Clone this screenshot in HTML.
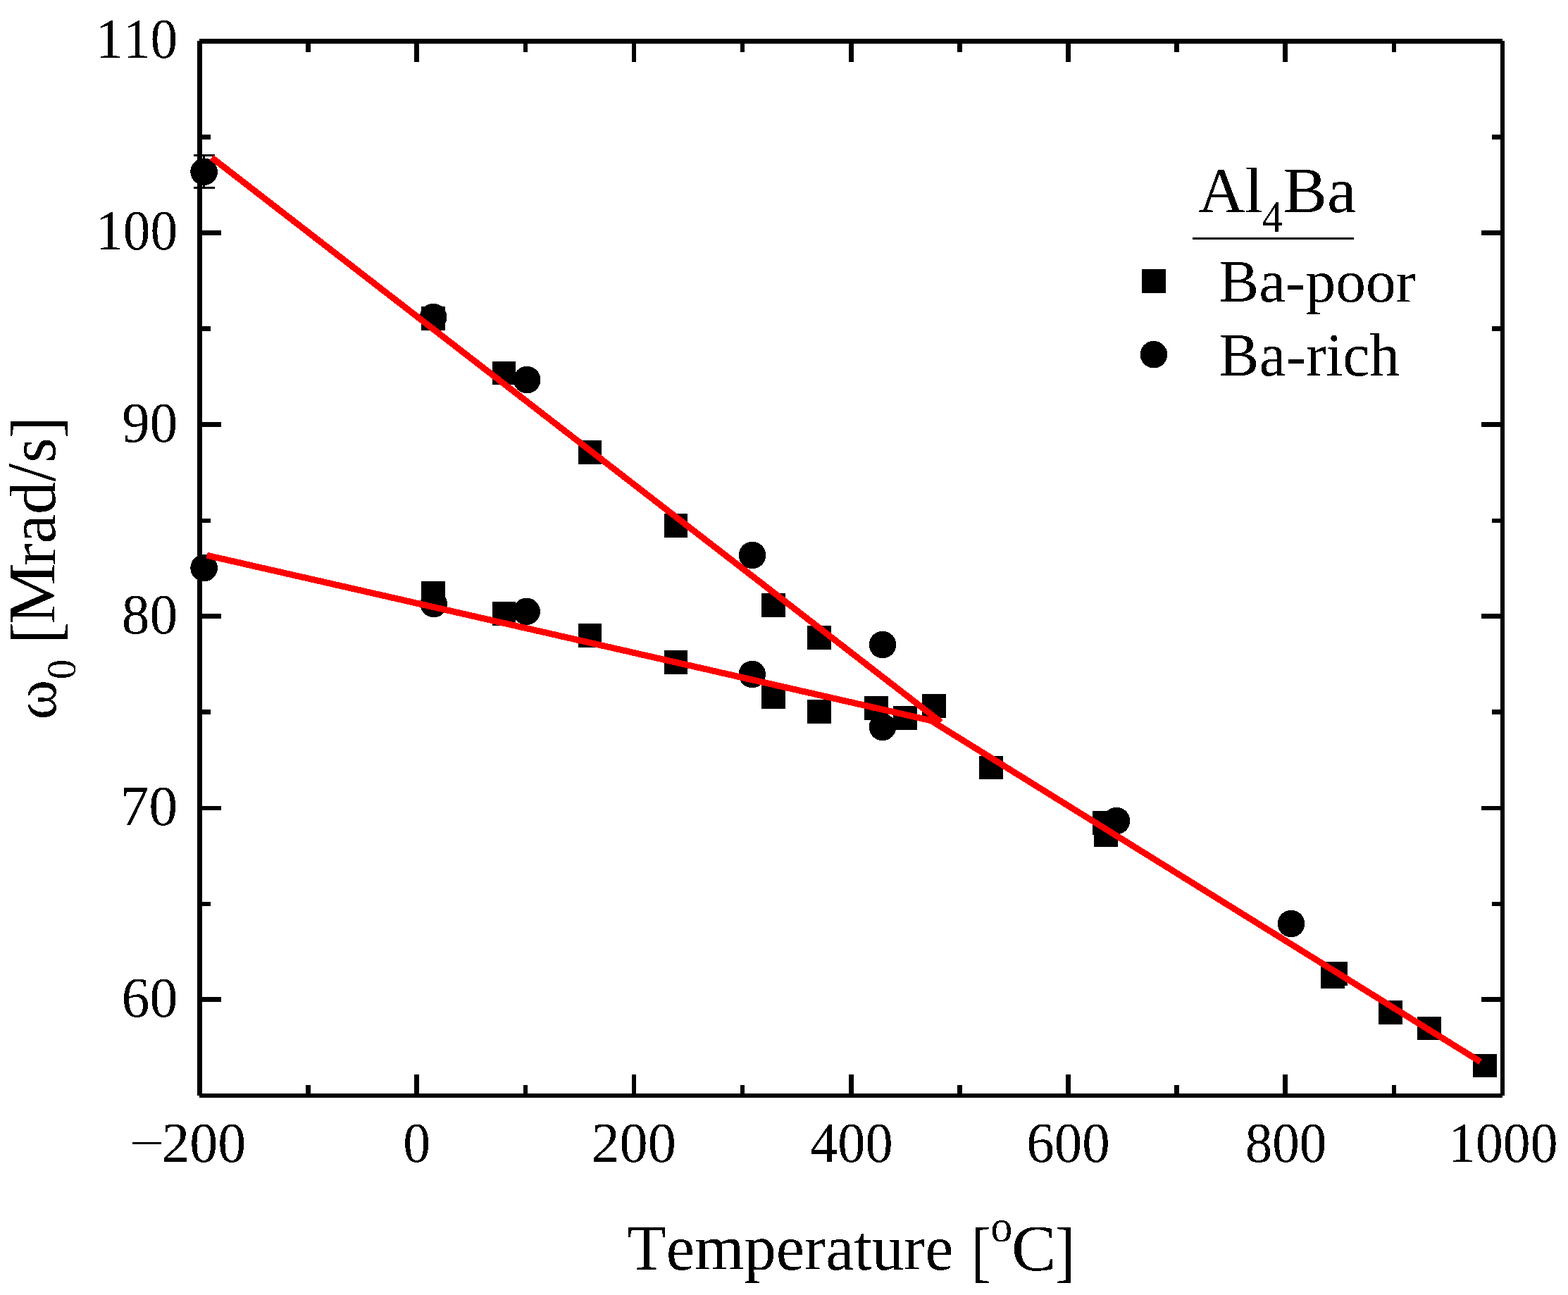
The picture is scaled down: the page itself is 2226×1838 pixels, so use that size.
<!DOCTYPE html>
<html lang="en"><head><meta charset="utf-8"><title>Al4Ba quadrupole frequency vs temperature</title>
<style>
html,body{margin:0;padding:0;background:#fff;}
body{width:2226px;height:1838px;overflow:hidden;}
svg{display:block;}
text{font-family:"Liberation Serif","DejaVu Serif",serif;fill:#000;font-kerning:none;font-variant-ligatures:none;}
</style></head><body>
<svg width="2226" height="1838" viewBox="0 0 2226 1838">
<rect x="0" y="0" width="2226" height="1838" fill="#fff"/>
<g fill="#000" shape-rendering="crispEdges">
<rect x="280" y="58" width="7" height="1497"/>
<rect x="2130" y="58" width="6" height="1497"/>
<rect x="283" y="55" width="1850" height="7"/>
<rect x="283" y="1552" width="1850" height="6"/>
<rect x="434" y="58" width="7" height="16"/>
<rect x="434" y="1540" width="7" height="15"/>
<rect x="588" y="58" width="7" height="30"/>
<rect x="588" y="1525" width="7" height="30"/>
<rect x="743" y="58" width="6" height="16"/>
<rect x="743" y="1540" width="6" height="15"/>
<rect x="897" y="58" width="6" height="30"/>
<rect x="897" y="1525" width="6" height="30"/>
<rect x="1051" y="58" width="6" height="16"/>
<rect x="1051" y="1540" width="6" height="15"/>
<rect x="1205" y="58" width="7" height="30"/>
<rect x="1205" y="1525" width="7" height="30"/>
<rect x="1359" y="58" width="7" height="16"/>
<rect x="1359" y="1540" width="7" height="15"/>
<rect x="1513" y="58" width="7" height="30"/>
<rect x="1513" y="1525" width="7" height="30"/>
<rect x="1667" y="58" width="7" height="16"/>
<rect x="1667" y="1540" width="7" height="15"/>
<rect x="1821" y="58" width="7" height="30"/>
<rect x="1821" y="1525" width="7" height="30"/>
<rect x="1976" y="58" width="6" height="16"/>
<rect x="1976" y="1540" width="6" height="15"/>
<rect x="283" y="191" width="16" height="7"/>
<rect x="2118" y="191" width="15" height="7"/>
<rect x="283" y="327" width="31" height="7"/>
<rect x="2103" y="327" width="30" height="7"/>
<rect x="283" y="463" width="16" height="7"/>
<rect x="2118" y="463" width="15" height="7"/>
<rect x="283" y="599" width="31" height="7"/>
<rect x="2103" y="599" width="30" height="7"/>
<rect x="283" y="736" width="16" height="6"/>
<rect x="2118" y="736" width="15" height="6"/>
<rect x="283" y="871" width="31" height="7"/>
<rect x="2103" y="871" width="30" height="7"/>
<rect x="283" y="1007" width="16" height="7"/>
<rect x="2118" y="1007" width="15" height="7"/>
<rect x="283" y="1144" width="31" height="6"/>
<rect x="2103" y="1144" width="30" height="6"/>
<rect x="283" y="1280" width="16" height="6"/>
<rect x="2118" y="1280" width="15" height="6"/>
<rect x="283" y="1415" width="31" height="7"/>
<rect x="2103" y="1415" width="30" height="7"/>
</g>
<g fill="#000" shape-rendering="crispEdges">
<rect x="288" y="220" width="3" height="47"/>
<rect x="275" y="219" width="30" height="3"/>
<rect x="275" y="265" width="30" height="3"/>
<rect x="598" y="435" width="34" height="34"/>
<rect x="699" y="513" width="33" height="33"/>
<rect x="821" y="625" width="33" height="34"/>
<rect x="943" y="729" width="33" height="34"/>
<rect x="1081" y="842" width="34" height="34"/>
<rect x="1146" y="888" width="34" height="34"/>
<rect x="598" y="825" width="34" height="34"/>
<rect x="699" y="854" width="33" height="34"/>
<rect x="821" y="885" width="33" height="34"/>
<rect x="943" y="923" width="33" height="34"/>
<rect x="1081" y="972" width="34" height="34"/>
<rect x="1146" y="993" width="34" height="34"/>
<rect x="1227" y="988" width="34" height="34"/>
<rect x="1268" y="1002" width="34" height="34"/>
<rect x="1309" y="985" width="34" height="34"/>
<rect x="1390" y="1073" width="34" height="33"/>
<rect x="1551" y="1151" width="34" height="34"/>
<rect x="1553" y="1168" width="34" height="34"/>
<rect x="1879" y="1365" width="34" height="34"/>
<rect x="1875" y="1369" width="34" height="34"/>
<rect x="1957" y="1420" width="34" height="34"/>
<rect x="2012" y="1443" width="34" height="33"/>
<rect x="2091" y="1496" width="34" height="33"/>
<circle cx="289.6" cy="243.7" r="19.3"/>
<circle cx="289.6" cy="806.1" r="19.3"/>
<circle cx="615.2" cy="450" r="19.3"/>
<circle cx="748.2" cy="539.1" r="19.3"/>
<circle cx="1068" cy="788" r="19.3"/>
<circle cx="1253" cy="915.1" r="19.3"/>
<circle cx="615.7" cy="857" r="19.3"/>
<circle cx="747.6" cy="867.9" r="19.3"/>
<circle cx="1067.8" cy="957" r="19.3"/>
<circle cx="1252.9" cy="1031.9" r="19.3"/>
<circle cx="1585" cy="1165" r="19.3"/>
<circle cx="1833" cy="1311" r="19.3"/>
</g>
<g fill="none" stroke="#f00" stroke-width="9" stroke-linecap="butt" stroke-linejoin="miter" shape-rendering="crispEdges">
<path d="M300.5 223.6 L1335.8 1024.9"/>
<path d="M293.7 788.2 L1321.7 1022.7 L2101.8 1507"/>
</g>
<defs><filter id="bin" filterUnits="userSpaceOnUse" x="0" y="0" width="2226" height="1838" color-interpolation-filters="sRGB"><feComponentTransfer><feFuncA type="discrete" tableValues="0 1"/></feComponentTransfer></filter></defs>
<g filter="url(#bin)">
<g id="ylabels"><text font-size="78" transform="matrix(0.9921 0 0 1.0295 136.10 82.13)">110</text> <text font-size="78" transform="matrix(0.9921 0 0 1.0286 136.10 354.23)">100</text> <text font-size="78" transform="matrix(1.0110 0 0 1.0305 173.37 627.23)">90</text> <text font-size="78" transform="matrix(1.0181 0 0 1.0305 172.85 899.23)">80</text> <text font-size="78" transform="matrix(1.0509 0 0 1.0305 170.38 1171.23)">70</text> <text font-size="78" transform="matrix(1.0216 0 0 1.0305 172.58 1443.23)">60</text></g>
<g id="xlabels"><text font-size="78" transform="matrix(1.1090 0 0 0.8267 184.36 1643.84)">−</text><text font-size="78" transform="matrix(1.0262 0 0 1.0324 229.21 1649.03)">200</text> <text font-size="78" transform="matrix(0.9970 0 0 1.0324 572.21 1649.03)">0</text> <text font-size="78" transform="matrix(1.0299 0 0 1.0324 839.40 1649.03)">200</text> <text font-size="78" transform="matrix(1.0044 0 0 1.0324 1150.09 1649.03)">400</text> <text font-size="78" transform="matrix(1.0131 0 0 1.0324 1457.31 1649.03)">600</text> <text font-size="78" transform="matrix(0.9883 0 0 1.0324 1767.74 1649.03)">800</text> <text font-size="78" transform="matrix(0.9949 0 0 1.0324 2056.28 1649.03)">1000</text></g>
<g id="xtitle"><text font-size="90" transform="matrix(1.0076 0 0 1.0064 890.24 1802.43)">Temperature</text> <text font-size="90" transform="matrix(0.9500 0 0 1.0577 1378.59 1808.21)">[</text><text font-size="62" transform="matrix(0.9962 0 0 1.0084 1406.56 1761.50)">o</text><text font-size="90" transform="matrix(1.0517 0 0 1.0340 1435.96 1803.42)">C</text><text font-size="90" transform="matrix(0.9500 0 0 1.0577 1497.81 1808.21)">]</text></g>
<g id="ytitle"><text font-size="92" transform="translate(78.51 1021.38) rotate(-90) scale(0.9364 0.9234)">ω</text><text font-size="62" transform="translate(106.62 964.05) rotate(-90) scale(0.9094 0.9605)">0</text> <text font-size="92" transform="translate(83.04 913.68) rotate(-90) scale(1.0195 1.0658)">[</text><text font-size="92" transform="translate(78.10 885.92) rotate(-90) scale(1.0636 1.0324)">M</text><text font-size="92" transform="translate(78.08 802.57) rotate(-90) scale(1.0140 1.0208)">rad</text><text font-size="92" transform="translate(78.03 683.80) rotate(-90) scale(1.0196 1.0704)">/</text><text font-size="92" transform="translate(78.10 656.69) rotate(-90) scale(0.9843 1.0011)">s</text><text font-size="92" transform="translate(83.01 622.33) rotate(-90) scale(1.0244 1.0684)">]</text></g>
<g id="legend-title"><text font-size="90" transform="matrix(1.0189 0 0 1.0080 1700.98 300.70)">Al</text><text font-size="62" transform="matrix(0.9461 0 0 1.0331 1791.72 328.90)">4</text><text font-size="90" transform="matrix(1.0410 0 0 1.0176 1821.40 301.14)">Ba</text></g>
<g id="legend-1"><text font-size="84" transform="matrix(1.0165 0 0 1.0110 1730.26 427.70)">Ba-poor</text></g>
<g id="legend-2"><text font-size="84" transform="matrix(1.0199 0 0 1.0288 1730.25 532.73)">Ba-rich</text></g>
</g>
<g fill="#000" shape-rendering="crispEdges">
<rect x="1693" y="337" width="229" height="3"/>
<rect x="1621" y="382" width="34" height="34"/>
<circle cx="1637.9" cy="503.2" r="19.3"/>
</g>
</svg>
</body></html>
